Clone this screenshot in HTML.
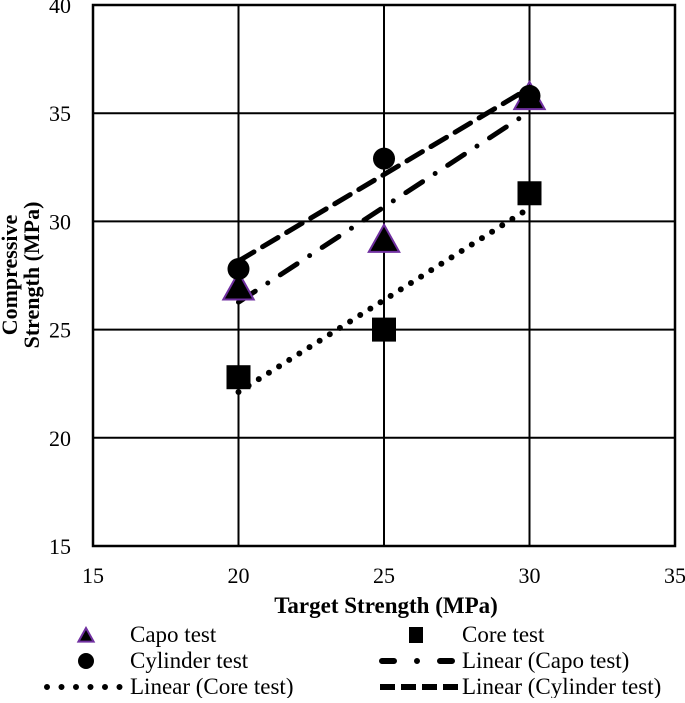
<!DOCTYPE html>
<html><head><meta charset="utf-8"><style>
body{margin:0;background:#fff;}
svg text{font-family:"Liberation Serif",serif;fill:#000;}
</style></head><body>
<svg width="685" height="698" id="c">
</svg>
<script>
const xTicks=[15,20,25,30,35];
const yTicks=[15,20,25,30,35,40];
const xCats=[20,25,30];
const capo=[27.0,29.2,35.8];
const cylinder=[27.8,32.9,35.8];
const core=[22.8,25.0,31.3];
const NS='http://www.w3.org/2000/svg';
const svg=document.getElementById('c');
const X=v=>93+(v-15)*(582/20);
const Y=v=>546-(v-15)*(541/25);
function mk(t,a,p){const e=document.createElementNS(NS,t);for(const k in a)e.setAttribute(k,a[k]);(p||svg).appendChild(e);return e;}
const grid=mk('g',{});


xTicks.forEach(v=>{mk('line',{x1:X(v),x2:X(v),y1:Y(40),y2:Y(15),stroke:'#000','stroke-width':2},grid);});
yTicks.forEach(v=>{mk('line',{x1:X(15),x2:X(35),y1:Y(v),y2:Y(v),stroke:'#000','stroke-width':2},grid);});
mk('rect',{x:X(15),y:Y(40),width:X(35)-X(15),height:Y(15)-Y(40),fill:'none',stroke:'#000','stroke-width':2.5},grid);
xTicks.forEach(v=>{const t=mk('text',{x:X(v),y:583,'font-size':22,'text-anchor':'middle'});t.textContent=v;

});
yTicks.forEach(v=>{const t=mk('text',{x:71,y:Y(v)+8,'font-size':22,'text-anchor':'end'});t.textContent=v;

});
const xt=mk('text',{x:386,y:613,'font-size':23,'font-weight':'bold','text-anchor':'middle'});xt.textContent='Target Strength (MPa)';


const yt=mk('text',{transform:'translate(17,275) rotate(-90)','font-size':22,'font-weight':'bold','text-anchor':'middle'});


mk('tspan',{x:0,dy:0},yt).textContent='Compressive';
mk('tspan',{x:0,dy:22},yt).textContent='Strength (MPa)';
function fit(ys){const n=xCats.length,mx=xCats.reduce((a,b)=>a+b)/n,my=ys.reduce((a,b)=>a+b)/n;let sxy=0,sxx=0;xCats.forEach((x,i)=>{sxy+=(x-mx)*(ys[i]-my);sxx+=(x-mx)**2;});const m=sxy/sxx;return x=>my+m*(x-mx);}
function trend(ys,dash,cap,w,name){const f=fit(ys);const l=mk('line',{x1:X(20),y1:Y(f(20)),x2:X(30),y2:Y(f(30)),stroke:'#000','stroke-width':w,'stroke-dasharray':dash,'stroke-linecap':cap});

}
trend(core,'0 12','round',6,'trendline-core');
trend(capo,'20 15 0 15','round',5,'trendline-capo');
trend(cylinder,'18 10','round',5,'trendline-cylinder');
function tri(cx,cy,s,p){return mk('polygon',{points:`${cx},${cy-s} ${cx-s*0.95},${cy+s*0.7} ${cx+s*0.95},${cy+s*0.7}`,fill:'#000',stroke:'#7030a0','stroke-width':2},p);}
xCats.forEach((x,i)=>{const s=mk('rect',{x:X(x)-12,y:Y(core[i])-12,width:24,height:24,fill:'#000'});

});
xCats.forEach((x,i)=>{const t=tri(X(x),Y(capo[i])+2,16);

});
xCats.forEach((x,i)=>{const c=mk('circle',{cx:X(x),cy:Y(cylinder[i]),r:11,fill:'#000'});

});
const lg=mk('g',{});


function lt(x,y,s){const t=mk('text',{x:x,y:y,'font-size':23},lg);t.textContent=s;return t;}
tri(86,636,8,lg);lt(130,642,'Capo test');
mk('circle',{cx:86,cy:661,r:8,fill:'#000'},lg);lt(130,668,'Cylinder test');
mk('line',{x1:47,x2:120,y1:687,y2:687,stroke:'#000','stroke-width':6,'stroke-dasharray':'0 14.5','stroke-linecap':'round'},lg);lt(130,694,'Linear (Core test)');
mk('rect',{x:409,y:627,width:14,height:16,fill:'#000'},lg);lt(462,642,'Core test');
mk('line',{x1:382,x2:456,y1:661,y2:661,stroke:'#000','stroke-width':6,'stroke-dasharray':'12 23 0 23 12','stroke-linecap':'round'},lg);lt(462,668,'Linear (Capo test)');
mk('line',{x1:380,x2:458,y1:687,y2:687,stroke:'#000','stroke-width':6,'stroke-dasharray':'15 6'},lg);lt(462,694,'Linear (Cylinder test)');
</script>
</body></html>
